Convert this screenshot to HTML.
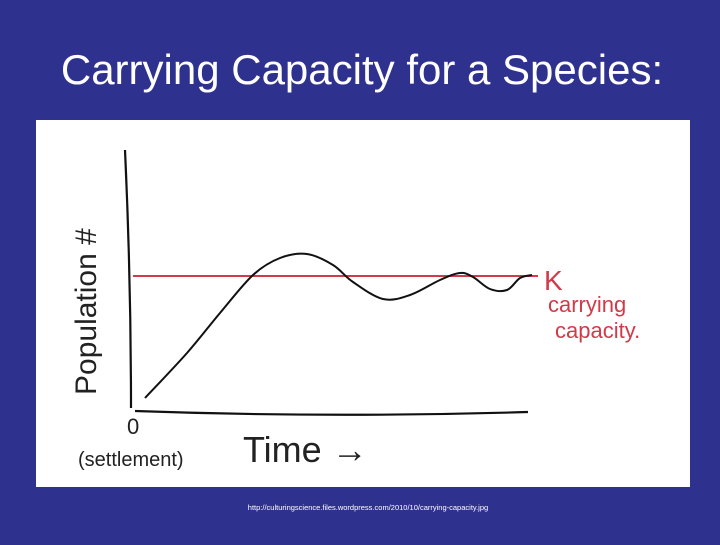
<!DOCTYPE html>
<html><head><meta charset="utf-8"><style>
body{margin:0;width:720px;height:540px;background:#2f318f;overflow:hidden;font-family:"Liberation Sans",sans-serif}
</style></head><body>
<svg width="720" height="540" xmlns="http://www.w3.org/2000/svg">
<text x="362" y="84" text-anchor="middle" fill="#fff" font-size="42" font-family="Liberation Sans">Carrying Capacity for a Species:</text>
<rect x="36" y="120" width="654" height="367" fill="#fff"/>
<g id="chart"></g>
<text x="368" y="510" text-anchor="middle" fill="#fff" font-size="7.5">http://culturingscience.files.wordpress.com/2010/10/carrying-capacity.jpg</text>
</svg>
<script>
const times=[3.75,14.25,22.5,30.75,37.5,44.25,50.75,55.75,63.25,70,77.5,82.5,85.75,90,94.25,97.5,100.5];
const population=[2.8,20.8,36.8,52,58.8,60.4,56,49.2,42.4,44,50,52.8,51.2,46.4,46,50.8,52];
const carryingCapacity=[51.6];
function xs(t){return 130+t*4;}
function ys(v){return 405-v*2.5;}
const NS="http://www.w3.org/2000/svg";
const g=document.getElementById('chart');
function mk(tag,attrs,parent){const e=document.createElementNS(NS,tag);for(const k in attrs)e.setAttribute(k,attrs[k]);(parent||g).appendChild(e);return e;}
let e;
e=mk('path',{d:'M125,150 Q131,280 131,408',stroke:'#111',fill:'none','stroke-width':2.2});


e=mk('path',{d:'M135,411 Q330,418 528,412',stroke:'#111',fill:'none','stroke-width':2.2});


e=mk('line',{x1:xs(0.75),x2:xs(102),y1:ys(carryingCapacity[0]),y2:ys(carryingCapacity[0]),stroke:'#d23a4a','stroke-width':2});


const P=times.map((t,i)=>[xs(t),ys(population[i])]);
let d='M'+P[0][0]+','+P[0][1];
for(let i=0;i<P.length-1;i++){
  const p0=P[Math.max(0,i-1)],p1=P[i],p2=P[i+1],p3=P[Math.min(P.length-1,i+2)];
  const c1=[p1[0]+(p2[0]-p0[0])/6,p1[1]+(p2[1]-p0[1])/6];
  const c2=[p2[0]-(p3[0]-p1[0])/6,p2[1]-(p3[1]-p1[1])/6];
  d+=' C'+c1[0]+','+c1[1]+' '+c2[0]+','+c2[1]+' '+p2[0]+','+p2[1];
}
e=mk('path',{d:d,stroke:'#111',fill:'none','stroke-width':2});


function txt(s,attrs,name){const t=mk('text',attrs);t.textContent=s;return t;}
txt('Population #',{x:0,y:0,transform:'translate(96,395) rotate(-90)','font-size':30,fill:'#222','font-family':'Liberation Sans'},'y-axis-title');
txt('Time →',{x:243,y:462,'font-size':36,fill:'#222','font-family':'Liberation Sans'},'x-axis-title');
txt('0',{x:127,y:434,'font-size':22,fill:'#222','font-family':'Liberation Sans'},'origin-label');
txt('(settlement)',{x:78,y:466,'font-size':20,fill:'#222','font-family':'Liberation Sans'},'settlement-label');
txt('K',{x:544,y:290,'font-size':28,fill:'#d23a4a','font-family':'Liberation Sans'},'k-label');
txt('carrying',{x:548,y:312,'font-size':22,fill:'#d23a4a','font-family':'Liberation Sans'},'carrying-label');
txt('capacity.',{x:555,y:338,'font-size':22,fill:'#d23a4a','font-family':'Liberation Sans'},'capacity-label');
</script>
</body></html>
